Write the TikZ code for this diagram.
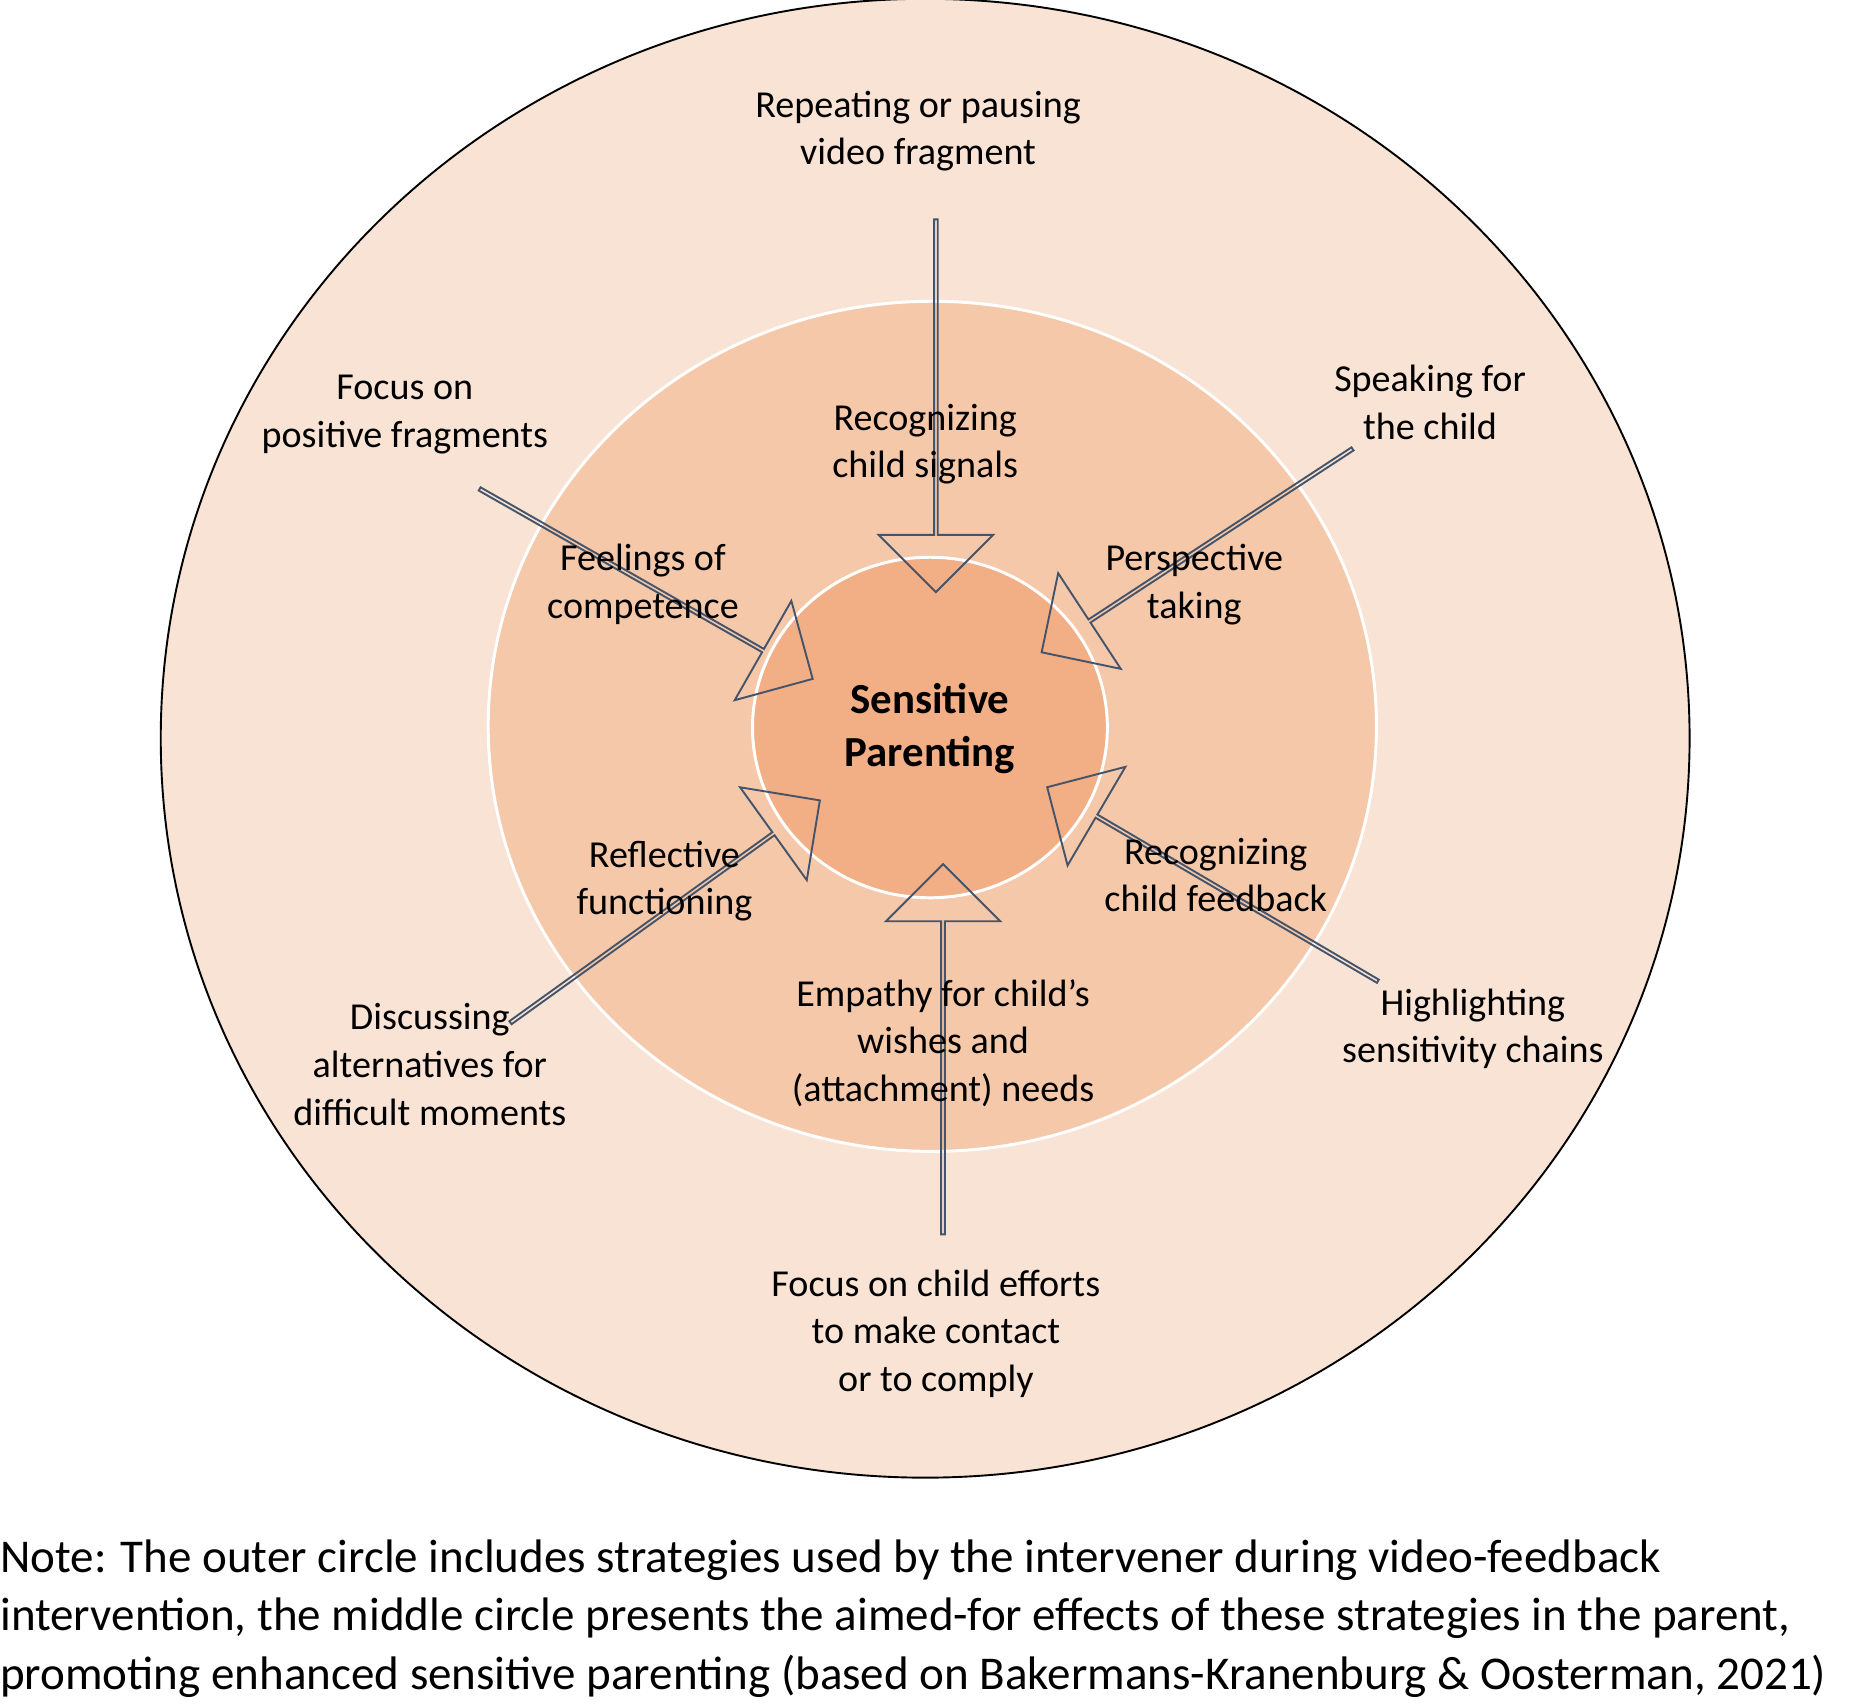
\documentclass[tikz,border=0pt]{standalone}
\usepackage{fontspec}
\setmainfont{Carlito}
\usetikzlibrary{shapes.arrows}
\definecolor{outerc}{HTML}{F9E3D5}
\definecolor{midc}{HTML}{F5C8A9}
\definecolor{innc}{HTML}{F2AE84}
\definecolor{arrc}{HTML}{44546A}
\begin{document}
\begin{tikzpicture}[x=1pt,y=-1pt,
  barr/.style={single arrow, draw=arrc, line width=1.6pt, minimum width=96pt, single arrow head extend=24pt, single arrow tip angle=90, single arrow head indent=0pt, inner sep=0pt, fill=none},
  lbl/.style={font=\fontsize{32}{40}\selectfont, align=center},
  note/.style={font=\fontsize{39.5}{49}\selectfont, align=left, anchor=north west, inner sep=0pt}]
\useasboundingbox (0,0) rectangle (1568,1434);
\fill[white] (0,0) rectangle (1568,1434);
\draw[fill=outerc, draw=black, line width=1.6pt] (777,620) ellipse [x radius=642, y radius=621];
\draw[fill=midc, draw=white, line width=2.5pt] (783,610) ellipse [x radius=373, y radius=357];
\draw[fill=innc, draw=white, line width=2.5pt] (781,611) ellipse [x radius=149, y radius=143];
\node[barr, minimum height=313pt, rotate=-90] (a1) at (786,340) {};
\node[barr, minimum height=311pt, rotate=90] (a2) at (792,882) {};
\node[barr, minimum height=322pt, rotate=-29.7] (a3) at (542,490) {};
\node[barr, minimum height=312pt, rotate=-146.8] (a4) at (1006,462) {};
\node[barr, minimum height=320pt, rotate=35.7] (a5) at (558,766) {};
\node[barr, minimum height=322pt, rotate=149.6] (a6) at (1019,743) {};
\node[lbl] (t1) at (771,110) {Repeating or pausing\\video fragment};
\node[lbl] (t2) at (340,348) {Focus on\\positive fragments};
\node[lbl] (t3) at (1201,338) {Speaking for\\the child};
\node[lbl] (t4) at (777,373) {Recognizing\\child signals};
\node[lbl] (t5) at (540,491) {Feelings of\\competence};
\node[lbl] (t6) at (1003,491) {Perspective\\taking};
\node[lbl, font=\fontsize{36}{45}\selectfont\bfseries] (t7) at (781,612) {Sensitive\\Parenting};
\node[lbl] (t8) at (558,740) {Reflective\\functioning};
\node[lbl] (t9) at (1021,735) {Recognizing\\child feedback};
\node[lbl] (t10) at (361,894) {Discussing\\alternatives for\\difficult moments};
\node[lbl] (t11) at (792,876) {Empathy for child’s\\wishes and\\(attachment) needs};
\node[lbl] (t12) at (1237,864) {Highlighting\\sensitivity chains};
\node[lbl] (t13) at (786,1120) {Focus on child efforts\\to make contact\\or to comply};
\node[note] (n) at (0,1293) {Note: The outer circle includes strategies used by the intervener during video-feedback\\intervention, the middle circle presents the aimed-for effects of these strategies in the parent,\\promoting enhanced sensitive parenting (based on Bakermans-Kranenburg \& Oosterman, 2021)};
\end{tikzpicture}
\end{document}
